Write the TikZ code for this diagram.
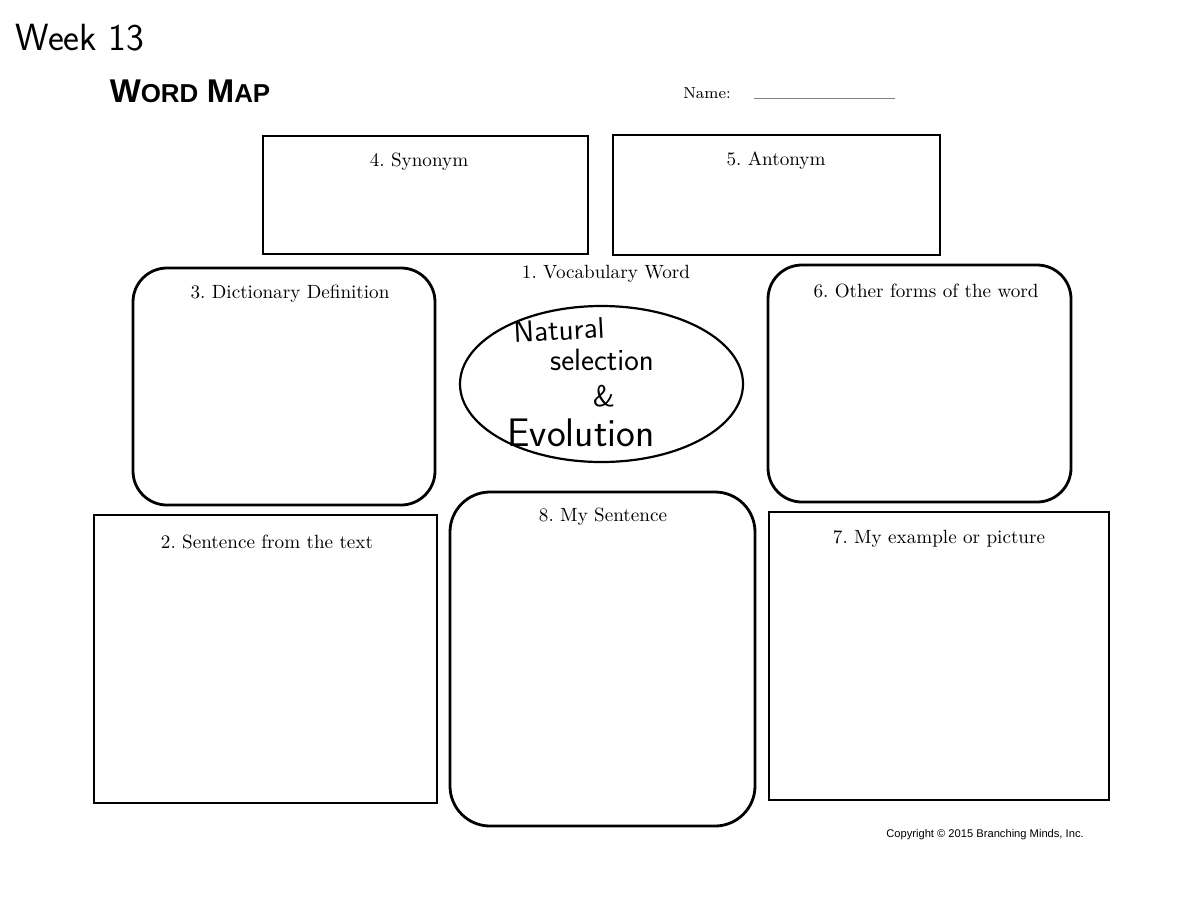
\documentclass[tikz,border=0pt]{standalone}
\usepackage{fontspec}
\usepackage{tikz}
\usetikzlibrary{shapes,positioning}
\newfontfamily\copyfont{Liberation Sans}
\newfontfamily\headfont{Liberation Sans}
\newcommand{\hand}[1]{{\sffamily #1}}
\frenchspacing

\begin{document}
\begin{tikzpicture}[x=0.5bp, y=-0.5bp]
      \tikzstyle{every node}=[font=\fontsize{9.6}{11}\selectfont]
      \tikzstyle{sqbox}=[draw, line width=1.4bp, rectangle, inner sep=0pt]
      \tikzstyle{rndbox}=[draw, line width=1.4bp, rectangle, rounded corners=17bp, inner sep=0pt]
      \useasboundingbox (0,0) rectangle (1200,922);
      
%% header
\node (week) at (80,38) [draw=none] {\hand{\fontsize{19}{19}\selectfont Week 13}};
  \node (title) at (190,91) [draw=none] {\headfont\bfseries{\fontsize{16.5}{17}\selectfont W}{\fontsize{13}{17}\selectfont ORD}\, {\fontsize{16.5}{17}\selectfont M}{\fontsize{13}{17}\selectfont AP}};
  \node (name) at (707,93) [draw=none] {\fontsize{8}{10}\selectfont Name:};
  \coordinate (nameend) at (895,98);
  \draw [gray, line width=0.5bp] (name.east |- nameend) ++(16,0) -- (nameend);
%% boxes
\node (syn) at (425.5,195) [sqbox, minimum width=162.5bp, minimum height=59bp] {};
  \node (ant) at (776.5,195) [sqbox, minimum width=163.5bp, minimum height=60bp] {};
  \node (dict) at (284,386.5) [rndbox, minimum width=151bp, minimum height=118.5bp] {};
  \node (other) at (919.5,383.5) [rndbox, minimum width=151.5bp, minimum height=118.5bp] {};
  \node (vocab) at (601.5,384) [draw, ellipse, line width=1.1bp, minimum width=141.5bp, minimum height=78bp, inner sep=0pt] {};
  \node (sent) at (265.5,659) [sqbox, minimum width=171.5bp, minimum height=144bp] {};
  \node (mysent) at (602.5,659) [rndbox, rounded corners=20bp, minimum width=152.5bp, minimum height=167bp] {};
  \node (example) at (939,656) [sqbox, minimum width=170bp, minimum height=144bp] {};
%% labels
\node (syn_l) at (419,162) [draw=none] {4. Synonym};
  \node (ant_l) at (776,161) [draw=none] {5. Antonym};
  \node (vocab_l) at (606,274) [draw=none] {1. Vocabulary Word};
  \node (dict_l) at (290,294) [draw=none] {3. Dictionary Definition};
  \node (other_l) at (926,291) [draw=none] {6. Other forms of the word};
  \node (sent_l) at (267,542) [draw=none] {2. Sentence from the text};
  \node (mysent_l) at (603,517) [draw=none] {8. My Sentence};
  \node (example_l) at (939,539) [draw=none] {7. My example or picture};
%% handwriting
\node (w1) at (559,330) [draw=none, rotate=3] {\hand{\fontsize{15}{15}\selectfont Natural}};
  \node (w2) at (602,360) [draw=none] {\hand{\fontsize{15.5}{15.5}\selectfont selection}};
  \node (w3) at (604,396) [draw=none] {\hand{\fontsize{15}{15}\selectfont \&}};
  \node (w4) at (581,433) [draw=none] {\hand{\fontsize{20}{20}\selectfont Evolution}};
%% footer
\node (copy) at (985,835) [draw=none] {\copyfont\fontsize{5.6}{7}\selectfont Copyright \textcopyright\ 2015 Branching Minds, Inc.};
%

    \end{tikzpicture}
\end{document}
